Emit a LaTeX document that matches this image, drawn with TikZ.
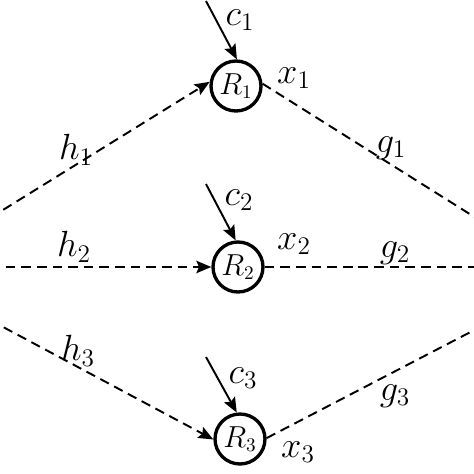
\documentclass[tikz,border=0pt]{standalone}
\usetikzlibrary{arrows.meta}

\begin{document}
\begin{tikzpicture}[x=0.02cm, y=-0.02cm,
        relay/.style={circle, draw, line width=1.9pt, minimum size=1cm,
            inner sep=0pt, font=\fontsize{16}{17}\selectfont},
        link/.style={line width=1.1pt, dash pattern=on 5.5pt off 3.4pt},
        feed/.style={line width=1.1pt},
        tip/.style={-{Stealth[length=8.5pt, width=7pt, inset=1.5pt]}},
        lbl/.style={font=\fontsize{21}{23}\selectfont, inner sep=0pt}
    ]
    \useasboundingbox (0,0) rectangle (474,474);
    \clip (0,0) rectangle (474,474);

    \node[relay] (R1) at (236,86) {$R_1$};
    \node[relay] (R2) at (238,267) {$R_2$};
    \node[relay] (R3) at (240,439) {$R_3$};

    \coordinate (s1) at (-10,218);
    \coordinate (s2) at (-10,267);
    \coordinate (s3) at (-10,320);
    \coordinate (d1) at (484,223);
    \coordinate (d2) at (484,267);
    \coordinate (d3) at (484,325);
    \coordinate (c1in) at (206,1);
    \coordinate (c2in) at (206,184);
    \coordinate (c3in) at (206,357);

    \draw[link, tip] (s1) -- (R1.171);
    \draw[link, tip] (s2) -- (R2.west);
    \draw[link, tip] (s3) -- (R3.181);
    \draw[link] (R1.5) -- (d1);
    \draw[link] (R2.east) -- (d2);
    \draw[link] (R3.2) -- (d3);
    \draw[feed, tip] (c1in) -- (R1.88);
    \draw[feed, tip] (c2in) -- (R2.95);
    \draw[feed, tip] (c3in) -- (R3.97);

    \node[lbl] (lc1) at (240,20) {$c_1$};
    \node[lbl] (lc2) at (239,200) {$c_2$};
    \node[lbl] (lc3) at (243,378) {$c_3$};
    \node[lbl] (lx1) at (294,78) {$x_1$};
    \node[lbl] (lx2) at (294,244) {$x_2$};
    \node[lbl] (lx3) at (298,452) {$x_3$};
    \node[lbl] (lh1) at (76,150) {$h_1$};
    \node[lbl] (lh2) at (74,247) {$h_2$};
    \node[lbl] (lh3) at (78,351) {$h_3$};
    \node[lbl] (lg1) at (391,148) {$g_1$};
    \node[lbl] (lg2) at (395,253) {$g_2$};
    \node[lbl] (lg3) at (395,396) {$g_3$};
\end{tikzpicture}
\end{document}
